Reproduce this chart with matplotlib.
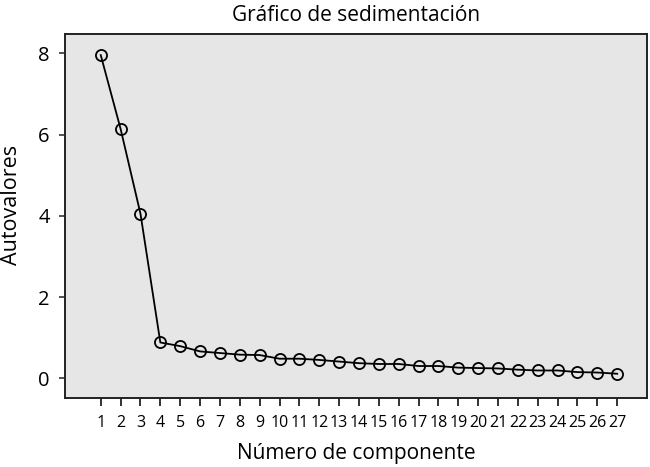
import matplotlib
matplotlib.use("Agg")
import matplotlib.pyplot as plt

plt.rcParams['font.family'] = ['Open Sans', 'DejaVu Sans']

# autovalores
componentes = list(range(1, 28))
autovalores = [7.96, 6.14, 4.05, 0.88, 0.79, 0.66, 0.62, 0.58, 0.57, 0.48,
               0.48, 0.45, 0.41, 0.37, 0.35, 0.35, 0.30, 0.30, 0.26, 0.25,
               0.24, 0.21, 0.19, 0.19, 0.15, 0.14, 0.11]
y_ticks = [0, 2, 4, 6, 8]

fig = plt.figure(figsize=(6.5, 4.67), dpi=100)
ax = fig.add_axes([0.1, 0.148, 0.8954, 0.7792])
ax.set_facecolor("#e6e6e7")

ax.plot(componentes, autovalores, color="black", linewidth=1.3,
        marker="o", markersize=8, markerfacecolor="none",
        markeredgecolor="black", markeredgewidth=1.3)

ax.set_xlim(-0.8, 28.5)
ax.set_ylim(-0.485, 8.48)
ax.set_xticks(componentes)
ax.set_yticks(y_ticks)

for s in ax.spines.values():
    s.set_linewidth(1.4)
    s.set_color("#222222")

ax.tick_params(axis="x", direction="out", length=6, width=1.3, pad=6,
               labelsize=11.5, color="#222222")
ax.tick_params(axis="y", direction="out", length=4, width=1.1, pad=7,
               labelsize=14.5, color="#222222")

ax.set_title("Gráfico de sedimentación", fontsize=15, pad=9)
ax.set_xlabel("Número de componente", fontsize=15, labelpad=9)
ax.set_ylabel("Autovalores", fontsize=15.5)
ax.yaxis.set_label_coords(-0.074, 0.53)

fig.savefig("out.png", dpi=100)
